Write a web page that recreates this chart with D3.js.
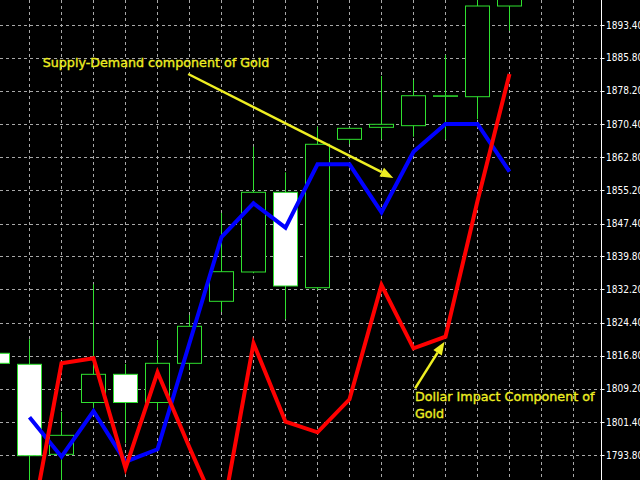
<!DOCTYPE html>
<html>
<head>
<meta charset="utf-8">
<script src="https://cdn.jsdelivr.net/npm/d3@7"></script>
<style>
  html, body { margin: 0; padding: 0; background: #000; }
  svg { display: block; }
</style>
</head>
<body>
<svg id="chart" width="640" height="480"></svg>
<script>
// ---- data ----
const barIndex = [-1, 0, 1, 2, 3, 4, 5, 6, 7, 8, 9, 10, 11, 12, 13, 14, 15];
const open  = [1817.36, 1814.81, 1793.96, 1805.96, 1812.49, 1805.96, 1815.04, 1829.40, 1836.19, 1854.65, 1832.55, 1866.92, 1869.70, 1870.08, 1876.88, 1876.79, 1897.80];
const high  = [1818.60, 1820.60, 1803.83, 1833.34, 1814.88, 1820.44, 1826.23, 1849.85, 1865.21, 1859.28, 1869.84, 1869.60, 1881.59, 1880.66, 1886.45, 1899.50, 1902.00];
const low   = [1812.00, 1786.00, 1787.00, 1804.69, 1796.51, 1804.22, 1813.49, 1826.92, 1835.90, 1825.30, 1832.02, 1865.84, 1866.92, 1867.53, 1866.92, 1871.56, 1892.08];
const close = [1815.04, 1793.64, 1798.36, 1812.49, 1805.96, 1815.04, 1823.61, 1836.26, 1854.65, 1832.95, 1865.77, 1869.47, 1870.40, 1877.02, 1877.00, 1897.80, 1900.50];

const lineIndex = [0, 1, 2, 3, 4, 5, 6, 7, 8, 9, 10, 11, 12, 13, 14, 15];
const supplyDemand = [1802.53, 1793.40, 1803.99, 1792.25, 1795.12, 1819.74, 1844.29, 1852.10, 1846.45, 1861.13, 1861.13, 1850.02, 1864.05, 1870.47, 1870.47, 1859.42];
const dollarImpact = [1775.04, 1815.04, 1816.20, 1790.72, 1812.96, 1795.54, 1778.74, 1819.67, 1801.51, 1799.06, 1806.70, 1833.18, 1818.51, 1821.20, 1852.63, 1882.05];

const yTickLabels = ["1893.40", "1885.80", "1878.20", "1870.40", "1862.80", "1855.20", "1847.40",
                     "1839.80", "1832.20", "1824.40", "1816.80", "1809.20", "1801.40", "1793.80"];
const gridBars = d3.range(0, 18);

const label1 = "Supply-Demand component of Gold";
const label2a = "Dollar Impact Component of";
const label2b = "Gold";

// ---- layout ----
const W = 640, H = 480;
const plotRight = 601.5;
const svg = d3.select("#chart");
svg.append("rect").attr("width", W).attr("height", H).attr("fill", "#000");

const x = d3.scaleLinear().domain([0, 17]).range([29.5, 573.5]);
const y = d3.scaleLinear().domain([1793.8, 1893.4]).range([455, 25]);

svg.append("defs").append("clipPath").attr("id", "plotClip")
  .append("rect").attr("x", 0).attr("y", 0).attr("width", plotRight).attr("height", H);

const plot = svg.append("g").attr("clip-path", "url(#plotClip)");

// grid
const gridColor = "#a8a8a8";
plot.append("g").selectAll("line").data(yTickLabels).join("line")
  .attr("x1", 0).attr("x2", plotRight)
  .attr("y1", d => Math.round(y(+d)) + 0.5).attr("y2", d => Math.round(y(+d)) + 0.5)
  .attr("stroke", gridColor).attr("stroke-width", 1).attr("stroke-dasharray", "3,3");
plot.append("g").selectAll("line").data(gridBars).join("line")
  .attr("x1", d => x(d)).attr("x2", d => x(d))
  .attr("y1", 0).attr("y2", H)
  .attr("stroke", gridColor).attr("stroke-width", 1).attr("stroke-dasharray", "3,3");

// candles
const candles = barIndex.map((k, i) => ({k, o: open[i], h: high[i], l: low[i], c: close[i]}));
const candleColor = "#2fe02f";
const cg = plot.append("g");
cg.selectAll("line.wick").data(candles).join("line")
  .attr("class", "wick")
  .attr("x1", d => x(d.k)).attr("x2", d => x(d.k))
  .attr("y1", d => y(d.h)).attr("y2", d => y(d.l))
  .attr("stroke", candleColor).attr("stroke-width", 1);
cg.selectAll("rect.body").data(candles).join("rect")
  .attr("class", "body")
  .attr("x", d => x(d.k) - 12)
  .attr("width", 24)
  .attr("y", d => y(Math.max(d.o, d.c)))
  .attr("height", d => Math.max(0.01, Math.abs(y(d.o) - y(d.c))))
  .attr("fill", d => d.c < d.o ? "#ffffff" : "#000000")
  .attr("stroke", candleColor).attr("stroke-width", 1);

// indicator lines
const lineGen = vals => d3.line().x((d, i) => x(lineIndex[i])).y(d => y(d))(vals);
plot.append("path").attr("d", lineGen(supplyDemand))
  .attr("fill", "none").attr("stroke", "#0000ff").attr("stroke-width", 4);
plot.append("path").attr("d", lineGen(dollarImpact))
  .attr("fill", "none").attr("stroke", "#ff0000").attr("stroke-width", 4);

// annotations
const yellow = "#eeee22";
function arrow(x1, y1, x2, y2) {
  const ang = Math.atan2(y2 - y1, x2 - x1);
  const len = 13, hw = 5;
  const bx = x2 - len * Math.cos(ang), by = y2 - len * Math.sin(ang);
  plot.append("line").attr("x1", x1).attr("y1", y1).attr("x2", bx).attr("y2", by)
    .attr("stroke", yellow).attr("stroke-width", 2.5);
  const px = -Math.sin(ang) * hw, py = Math.cos(ang) * hw;
  plot.append("path")
    .attr("d", `M${x2},${y2}L${bx + px},${by + py}L${bx - px},${by - py}Z`)
    .attr("fill", yellow);
}
arrow(x(4.96), y(1882.05), x(11.37), y(1857.96));
arrow(x(12.05), y(1809.25), x(12.97), y(1820.04));

const txt = plot.append("g")
  .attr("font-family", "DejaVu Sans, Verdana, sans-serif")
  .attr("font-size", "12.7px")
  .attr("fill", yellow).attr("stroke", yellow).attr("stroke-width", 0.35);
txt.append("text").attr("x", 42.7).attr("y", 66.5).text(label1);
txt.append("text").attr("x", 415).attr("y", 400.7).text(label2a);
txt.append("text").attr("x", 415).attr("y", 417.7).text(label2b);

// right price axis
svg.append("line").attr("x1", plotRight).attr("x2", plotRight).attr("y1", 0).attr("y2", H)
  .attr("stroke", "#ffffff").attr("stroke-width", 1);
const ax = svg.append("g");
ax.selectAll("line").data(yTickLabels).join("line")
  .attr("x1", plotRight).attr("x2", plotRight + 3)
  .attr("y1", d => Math.round(y(+d)) + 0.5).attr("y2", d => Math.round(y(+d)) + 0.5)
  .attr("stroke", "#ffffff");
ax.selectAll("text").data(yTickLabels).join("text")
  .attr("x", 606).attr("y", d => y(+d)).attr("dy", "0.36em")
  .attr("font-family", "DejaVu Sans Condensed, DejaVu Sans, sans-serif")
  .attr("font-stretch", "condensed")
  .attr("font-size", "10px").attr("fill", "#ffffff")
  .text(d => d);
</script>
</body>
</html>
